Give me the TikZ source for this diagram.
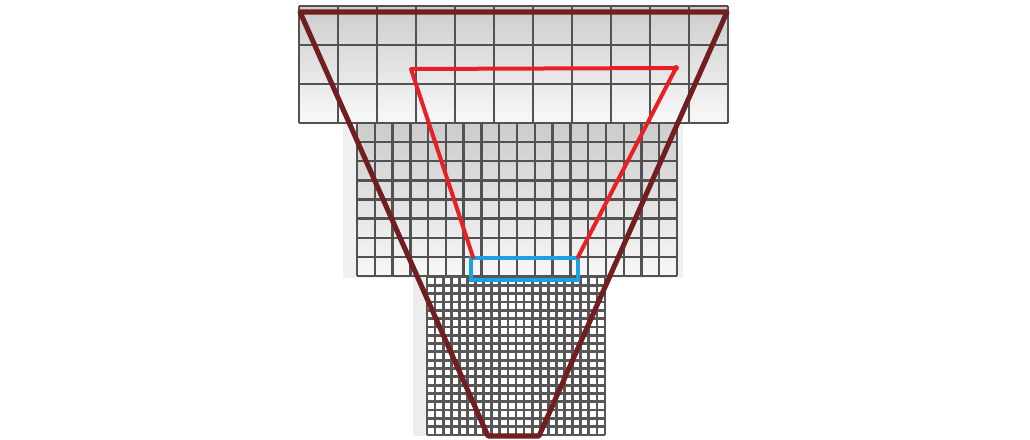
\documentclass[tikz,border=0pt]{standalone}
\definecolor{funnelred}{RGB}{112,30,32}
\definecolor{trapred}{RGB}{232,32,38}
\definecolor{boxblue}{RGB}{28,160,226}
\begin{document}
\begin{tikzpicture}[x=0.75pt,y=-0.75pt,
  gridline/.style={draw=black!68, line width=1.8pt},
  finegrid/.style={draw=black!66, line width=2.1pt},
  funnel/.style={draw=funnelred, line width=3.8pt, line join=round},
  redline/.style={draw=trapred, line width=3pt, line join=round, line cap=round},
  blueline/.style={draw=boxblue, line width=3.2pt}]
\useasboundingbox (0,0) rectangle (1030,439);
\fill[white] (0,0) rectangle (1030,439);
% soft shadows beside the lower blocks
\fill[gray!12] (343,123) rectangle (683,278);
\fill[gray!14] (413,277) rectangle (427,436);
% top block: 11 x 3 cells
\shade[top color=gray!40, bottom color=gray!5] (299,6) rectangle (728,123);
\foreach \i in {0,...,11} \draw[gridline] ({299+\i*39},6) -- ({299+\i*39},123);
\foreach \j in {0,...,3} \draw[gridline] (299,{6+\j*39}) -- (728,{6+\j*39});
% middle block: 18 x 8 cells
\shade[top color=gray!40, bottom color=gray!6] (357,123) rectangle (677,276);
\foreach \i in {0,...,18} \draw[gridline] ({357+\i*17.78},123) -- ({357+\i*17.78},276);
\foreach \j in {0,...,8} \draw[gridline] (357,{123+\j*19.125}) -- (677,{123+\j*19.125});
% bottom block: 22 x 19 cells
\fill[white] (427,277) rectangle (605,435);
\foreach \i in {0,...,22} \draw[finegrid] ({427+\i*8.09},277) -- ({427+\i*8.09},435);
\foreach \j in {0,...,19} \draw[finegrid] (427,{277+\j*8.316}) -- (605,{277+\j*8.316});
% funnel outline
\coordinate (ftl) at (300,12);
\coordinate (ftr) at (727,12);
\coordinate (fbr) at (539,436);
\coordinate (fbl) at (488,436);
\draw[funnel] (ftl) -- (ftr) -- (fbr) -- (fbl) -- cycle;
% blue box
\coordinate (bl) at (471,258);
\coordinate (br) at (578,280);
\draw[blueline] (bl) rectangle (br);
% red trapezoid
\coordinate (rtl) at (411,69);
\coordinate (rtr) at (676,68);
\coordinate (rbl) at (473,257);
\coordinate (rbr) at (578,257);
\draw[redline] (rbl) -- (rtl) -- (rtr) -- (rbr);
\fill[trapred] (rtr) circle (3);
\end{tikzpicture}
\end{document}
